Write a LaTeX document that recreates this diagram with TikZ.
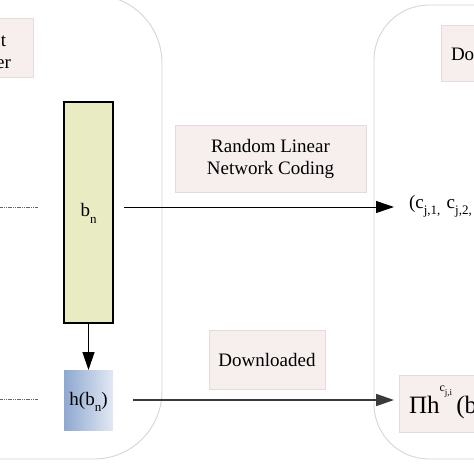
\documentclass[tikz,border=0pt]{standalone}
\usepackage{fontspec}
\setmainfont{Liberation Serif}
\usetikzlibrary{arrows.meta}
\definecolor{pinkfill}{HTML}{F7EEEE}
\definecolor{pinkline}{HTML}{E4DCDC}
\definecolor{contline}{HTML}{D6D6D6}
\definecolor{yelfill}{HTML}{E9ECC3}
\definecolor{blueL}{HTML}{8EA8D0}
\definecolor{blueR}{HTML}{E2E9F4}
\definecolor{darkarrow}{HTML}{3A3A3A}
\newcommand{\lowsub}[2]{\raisebox{-#1}{\fontsize{13}{13}\selectfont #2}}
\begin{document}
\begin{tikzpicture}[x=1pt,y=-1pt,
  font=\fontsize{19}{22}\selectfont,
  container/.style={draw=contline, line width=0.9pt},
  pinkbox/.style={draw=pinkline, fill=pinkfill, line width=0.8pt, inner sep=0pt, outer sep=0pt},
  plain/.style={inner sep=0pt, outer sep=0pt},
  arrowtip/.style={-{Triangle[length=18pt,width=12pt]}},
  dotline/.style={draw=black!60, line width=0.9pt, dash pattern=on 1.2pt off 0.6pt},
]
\useasboundingbox (0,0) rectangle (474,474);
\clip (0,0) rectangle (474,474);
\fill[white] (0,0) rectangle (474,474);

% containers
\draw[container, rounded corners=68pt] (-250,-5) rectangle (162,459);
\draw[container, rounded corners=55pt] (374,5) rectangle (760,459);

% top-left label
\node[pinkbox, minimum width=100pt, minimum height=59pt] (tlbox) at (-17,47.5) {};
\node[plain, align=center] (tltext) at (3.5,52) {t\\er};

% top-right label
\node[pinkbox, minimum width=110pt, minimum height=56pt] (trbox) at (496,53) {};
\node[plain, anchor=base west] (trtext) at (451,60) {Do};

% middle blocks
\node[draw=black, line width=1.4pt, fill=yelfill, minimum width=49pt, minimum height=221pt, plain] (bn) at (88.5,212.5) {};
\node[plain, anchor=base] (bntext) at (88.5,216) {b\lowsub{7pt}{n}};
\node[plain, left color=blueL, right color=blueR, minimum width=49pt, minimum height=60pt] (hb) at (88.5,400) {};
\node[plain, anchor=base] (hbtext) at (88.5,405) {h(b\lowsub{6pt}{n})};

% middle labels
\node[pinkbox, minimum width=191pt, minimum height=67pt, align=center] (rlnc) at (270.5,158.5) {Random Linear\\Network Coding};
\node[pinkbox, minimum width=116pt, minimum height=59pt] (dl) at (267,359.5) {Downloaded};

% right texts
\node[plain, anchor=base west] (ctext) at (409,208) {(c\lowsub{6pt}{j,1,}\,\,c\lowsub{6pt}{j,2,}};
\node[pinkbox, minimum width=200pt, minimum height=57pt] (prod) at (499,403.5) {};
\node[plain, anchor=base west, font=\fontsize{25}{28}\selectfont] (prodtext) at (409,413)
  {Πh\raisebox{0.85em}{\fontsize{12}{12}\selectfont c\raisebox{-0.3em}{\fontsize{9}{9}\selectfont j,i}}\,(b\lowsub{7pt}{i}};

% left dotted lines
\coordinate (d1) at (-5,207);
\coordinate (d2) at (-5,399);
\draw[dotline, shorten >=26pt] (d1) -- (d1 -| bn.west);
\draw[dotline, shorten >=26pt] (d2) -- (d2 -| hb.west);

% arrows
\draw[arrowtip, line width=1pt, shorten <=11pt, shorten >=15pt] (bn.east |- d1) -- (ctext.west |- d1);
\draw[arrowtip, line width=1.3pt] (bn.south) -- (hb.north);
\draw[arrowtip, line width=1.7pt, draw=darkarrow, shorten <=20pt, shorten >=5pt] (hb.east) -- (hb.east -| prod.west);
\end{tikzpicture}
\end{document}
